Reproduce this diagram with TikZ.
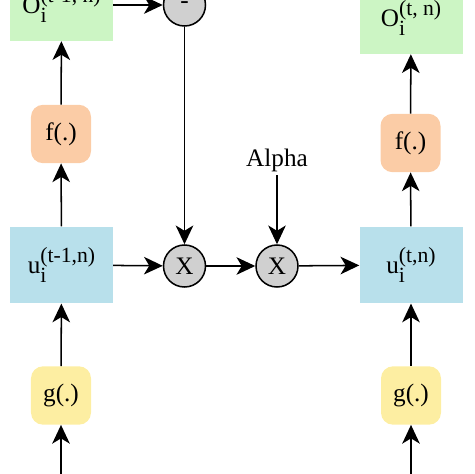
\documentclass[tikz,border=0pt]{standalone}
\usepackage{fontspec}
\setmainfont{Liberation Serif}
\usetikzlibrary{arrows.meta}
\definecolor{outgreen}{RGB}{204,245,196}
\definecolor{ublue}{RGB}{184,224,235}
\definecolor{forange}{RGB}{251,204,166}
\definecolor{gyellow}{RGB}{253,238,162}
\definecolor{opgray}{RGB}{208,208,208}
\newcommand{\supsub}[3]{#1\rlap{\raisebox{-0.8ex}{\fontsize{18.5}{18}\selectfont #2}}\raisebox{0.95ex}{\fontsize{18.5}{18}\selectfont #3}}
\tikzset{
  sqbox/.style={minimum width=3.09cm, minimum height=2.3cm, inner sep=0pt},
  fnbox/.style={rounded corners=0.36cm, minimum width=1.8cm, minimum height=1.75cm, inner sep=0pt},
  opcirc/.style={circle, draw, line width=1.3pt, fill=opgray, minimum size=1.26cm, inner sep=0pt},
  flow/.style={line width=1.3pt, -{Stealth[length=16pt, width=15pt, inset=4.5pt]}}
}
\begin{document}
\begin{tikzpicture}[x=0.03cm, y=-0.03cm, every node/.style={font=\fontsize{21.5}{24}\selectfont}]
    \useasboundingbox (0,0) rectangle (474,474);
    % previous step (left column)
    \node[sqbox, fill=outgreen, minimum height=2.16cm] (oprev) at (61.5,5) {\supsub{O}{i}{(t-1, n)}};
    \node[fnbox, fill=forange] (fprev) at (61,134) {f(.)};
    \node[sqbox, fill=ublue] (uprev) at (61.5,265) {\supsub{u}{i}{(t-1,n)}};
    \node[fnbox, fill=gyellow] (gprev) at (61,395.5) {g(.)};
    \coordinate (inprev) at (61,474);
    % current step (right column)
    \node[sqbox, fill=outgreen, minimum height=2.16cm] (ocur) at (411,18) {\supsub{O}{i}{(t, n)}};
    \node[fnbox, fill=forange] (fcur) at (410.5,143) {f(.)};
    \node[sqbox, fill=ublue] (ucur) at (411,265) {\supsub{u}{i}{(t,n)}};
    \node[fnbox, fill=gyellow] (gcur) at (411,395.5) {g(.)};
    \coordinate (incur) at (411,474);
    % operators
    \node[opcirc] (minus) at (184.5,5) {-};
    \node[opcirc] (mulA) at (184.5,266) {X};
    \node[opcirc] (mulB) at (277,266) {X};
    \node (alpha) at (277,160) {Alpha};
    % connectors
    \draw[flow] (inprev) -- (gprev);
    \draw[flow] (gprev) -- (uprev);
    \draw[flow] (uprev) -- (fprev);
    \draw[flow] (fprev) -- (oprev);
    \draw[flow] (incur) -- (gcur);
    \draw[flow] (gcur) -- (ucur);
    \draw[flow] (ucur) -- (fcur);
    \draw[flow] (fcur) -- (ocur);
    \draw[flow] (oprev) -- (minus);
    \draw[flow] (minus) -- (mulA);
    \draw[flow] (uprev) -- (mulA);
    \draw[flow] (mulA) -- (mulB);
    \draw[flow] (mulB) -- (ucur);
    \draw[flow, line width=1pt] (alpha.south) ++(0,-0.2) -- (mulB);
\end{tikzpicture}
\end{document}
